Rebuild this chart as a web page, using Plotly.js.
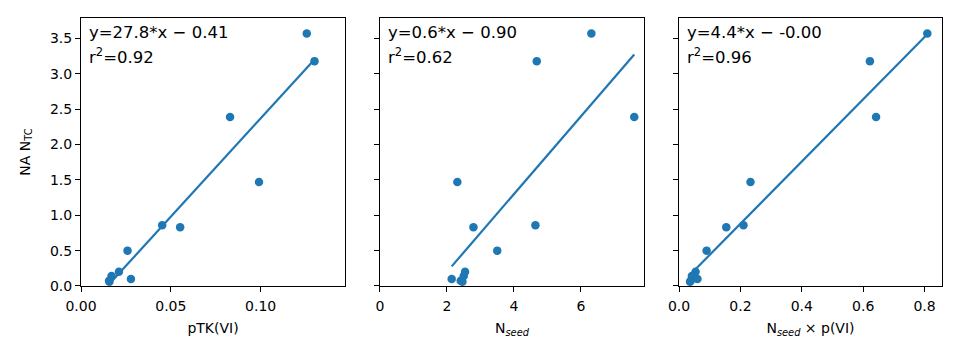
<!DOCTYPE html>
<html>
<head>
<meta charset="utf-8">
<script src="https://cdn.plot.ly/plotly-3.0.1.min.js"></script>
<style>html,body{margin:0;padding:0;background:#fff;}#chart{width:960px;height:360px;}</style>
</head>
<body>
<div id="chart"></div>
<script>
// Data
const naNTC   = [3.57, 3.18, 2.39, 1.47, 0.86, 0.83, 0.50, 0.20, 0.10, 0.14, 0.075, 0.06];
const pTKVI   = [0.1257, 0.1300, 0.0830, 0.0991, 0.0452, 0.0552, 0.0259, 0.0211, 0.0278, 0.0170, 0.0156, 0.0158];
const nSeed   = [6.31, 4.68, 7.59, 2.31, 4.64, 2.79, 3.50, 2.54, 2.14, 2.50, 2.41, 2.46];
const nSeedPV = [0.809, 0.622, 0.642, 0.233, 0.210, 0.154, 0.090, 0.054, 0.060, 0.042, 0.038, 0.036];

const fitSlopes     = [27.8, 0.55, 4.4];
const fitIntercepts = [-0.41, -0.90, 0.0];
const fitLabels = ["y=27.8*x − 0.41", "y=0.6*x − 0.90", "y=4.4*x − -0.00"];
const r2Labels  = ["r<sup>2</sup>=0.92", "r<sup>2</sup>=0.62", "r<sup>2</sup>=0.96"];

const xTitles = ["pTK(VI)", "N<sub><i>seed</i></sub>", "N<sub><i>seed</i></sub> × p(VI)"];
const xTickVals = [[0, 0.05, 0.10], [0, 2, 4, 6], [0, 0.2, 0.4, 0.6, 0.8]];
const xTickText = [["0.00", "0.05", "0.10"], ["0", "2", "4", "6"], ["0.0", "0.2", "0.4", "0.6", "0.8"]];
const xRanges = [[0, 0.147], [0, 7.88], [0, 0.857]];
const yTickVals = [0, 0.5, 1.0, 1.5, 2.0, 2.5, 3.0, 3.5];
const yTickText = ["0.0", "0.5", "1.0", "1.5", "2.0", "2.5", "3.0", "3.5"];
const yRange = [0, 3.79];

const blue = "#1f77b4";
const xs = [pTKVI, nSeed, nSeedPV];
const domains = [[0.0844, 0.3594], [0.3958, 0.6708], [0.7073, 0.9813]];
const font = {family: "DejaVu Sans", size: 14, color: "#000"};
const annFont = {family: "DejaVu Sans", size: 16.5, color: "#000"};

const traces = [];
const annotations = [];
const layout = {
  width: 960, height: 360,
  margin: {l: 0, r: 0, t: 0, b: 0},
  paper_bgcolor: "#fff", plot_bgcolor: "#fff",
  showlegend: false,
  font: font,
  annotations: annotations
};

for (let i = 0; i < 3; i++) {
  const sfx = i === 0 ? "" : String(i + 1);
  const xa = "x" + sfx, ya = "y" + sfx;
  const xv = xs[i];
  const x0 = Math.min(...xv), x1 = Math.max(...xv);
  traces.push({
    type: "scatter", mode: "lines", xaxis: xa, yaxis: ya,
    x: [x0, x1],
    y: [fitSlopes[i] * x0 + fitIntercepts[i], fitSlopes[i] * x1 + fitIntercepts[i]],
    line: {color: blue, width: 2.2}, hoverinfo: "skip"
  });
  traces.push({
    type: "scatter", mode: "markers", xaxis: xa, yaxis: ya,
    x: xv, y: naNTC,
    marker: {color: blue, size: 8.5, line: {width: 0}}
  });
  layout["xaxis" + sfx] = {
    domain: domains[i], anchor: ya, range: xRanges[i],
    tickmode: "array", tickvals: xTickVals[i], ticktext: xTickText[i],
    ticks: "outside", ticklen: 5, tickwidth: 1, tickcolor: "#000",
    ticklabelstandoff: 2,
    showline: true, linecolor: "#000", linewidth: 1, mirror: true,
    showgrid: false, zeroline: false, tickfont: font,
    title: {text: xTitles[i], font: font, standoff: 10}
  };
  layout["yaxis" + sfx] = {
    domain: [0.2056, 0.95], anchor: xa, range: yRange,
    tickmode: "array", tickvals: yTickVals, ticktext: yTickText,
    showticklabels: i === 0,
    ticks: "outside", ticklen: 5, tickwidth: 1, tickcolor: "#000",
    showline: true, linecolor: "#000", linewidth: 1, mirror: true,
    showgrid: false, zeroline: false, tickfont: font,
    title: i === 0 ? {text: "NA N<sub>TC</sub>", font: font, standoff: 16} : {text: ""}
  };
  annotations.push({
    xref: "paper", yref: "paper", x: domains[i][0] + 6 / 960, y: 1 - 32 / 360,
    xanchor: "left", yanchor: "middle", showarrow: false,
    text: fitLabels[i], font: annFont
  });
  annotations.push({
    xref: "paper", yref: "paper", x: domains[i][0] + 6 / 960, y: 1 - 56 / 360,
    xanchor: "left", yanchor: "middle", showarrow: false,
    text: r2Labels[i], font: annFont
  });
}

Plotly.newPlot("chart", traces, layout, {staticPlot: true, displayModeBar: false});
</script>
</body>
</html>
